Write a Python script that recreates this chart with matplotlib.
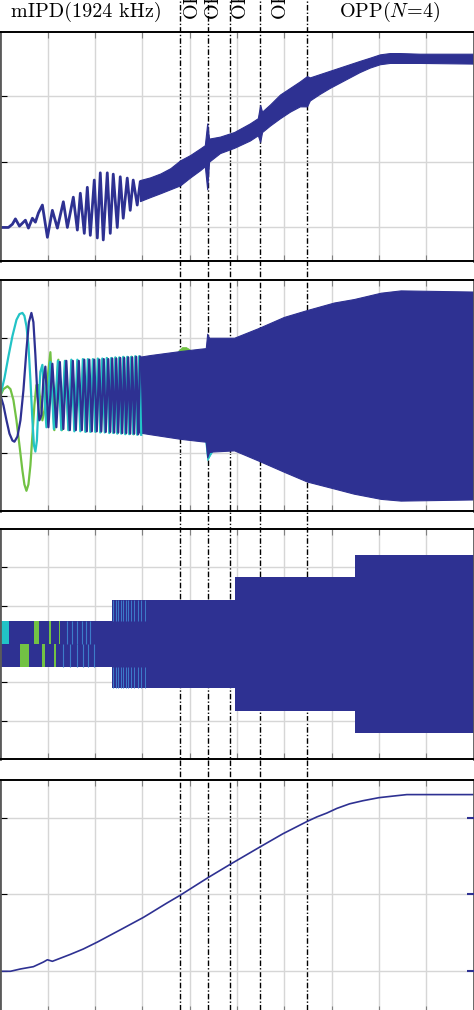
import matplotlib
matplotlib.use("Agg")
import matplotlib.pyplot as plt

plt.rcParams['font.family'] = ['cmr10', 'DejaVu Serif']
plt.rcParams['mathtext.fontset'] = 'cm'
plt.rcParams['axes.formatter.use_mathtext'] = True

BLUE = '#2e3192'
CYAN = '#22c3c6'
GREEN = '#72c244'
THIN = '#3d7cc9'

# ---- data (time axis 0..10) ----
opp_switch_t = [3.80, 4.38, 4.85, 5.48, 6.48]

# panel 1: mIPD start-up trace, then the dense band
mipd_t = [0, 0.169, 0.253, 0.316, 0.401, 0.527, 0.591, 0.675, 0.738, 0.802,
          0.886, 0.992, 1.097, 1.203, 1.329, 1.414, 1.540, 1.625, 1.688, 1.772,
          1.836, 1.899, 1.983, 2.047, 2.110, 2.173, 2.258, 2.321, 2.384, 2.469,
          2.532, 2.595, 2.680, 2.743, 2.806, 2.891, 2.954]
mipd_v = [0, 0, 0.05, 0.13, 0.02, 0.11, -0.01, 0.14, 0.08, 0.22,
          0.34, -0.15, 0.26, -0.01, 0.39, 0.00, 0.46, -0.04, 0.52, -0.09,
          0.61, -0.12, 0.72, -0.16, 0.83, -0.19, 0.83, -0.09, 0.81, 0.00,
          0.77, 0.14, 0.75, 0.26, 0.72, 0.34, 0.69]
mipd_band_t = [2.95, 3.16, 3.38, 3.59, 3.80, 4.01, 4.22, 4.32, 4.37, 4.41,
               4.64, 4.94, 5.27, 5.44, 5.49, 5.53, 5.70, 5.91, 6.12, 6.33,
               6.48, 6.54, 6.75, 6.96, 7.17, 7.38, 7.59, 7.81, 8.02, 8.23,
               8.44, 8.86, 10.0]
mipd_band_hi = [0.72, 0.76, 0.82, 0.90, 1.02, 1.10, 1.20, 1.25, 1.58, 1.35,
                1.38, 1.45, 1.58, 1.66, 1.86, 1.76, 1.87, 2.02, 2.12, 2.22,
                2.30, 2.28, 2.33, 2.38, 2.43, 2.48, 2.53, 2.58, 2.63, 2.65,
                2.65, 2.64, 2.64]
mipd_band_lo = [0.40, 0.46, 0.52, 0.58, 0.64, 0.76, 0.87, 0.93, 0.58, 1.00,
                1.13, 1.21, 1.32, 1.40, 1.30, 1.45, 1.55, 1.66, 1.76, 1.84,
                1.84, 1.93, 2.03, 2.12, 2.20, 2.28, 2.36, 2.43, 2.48, 2.50,
                2.50, 2.50, 2.49]

# panel 2: three phase currents
ia_t = [0, 0.063, 0.127, 0.190, 0.253, 0.295, 0.359, 0.422, 0.485, 0.549,
        0.601, 0.654, 0.696, 0.738, 0.781, 0.823, 0.865, 0.907, 0.949, 1.013,
        1.097, 1.181, 1.255, 1.329, 1.392, 1.466, 1.530, 1.593, 1.656, 1.720,
        1.772, 1.825, 1.878, 1.931, 1.983, 2.036, 2.089, 2.131, 2.184, 2.226,
        2.279, 2.321, 2.363, 2.405, 2.448, 2.490, 2.532, 2.574, 2.616, 2.659,
        2.701, 2.743, 2.785, 2.827, 2.870, 2.912, 2.954]
ia_v = [0, -0.17, -0.43, -0.66, -0.78, -0.80, -0.71, -0.43, 0.09, 0.79,
        1.27, 1.43, 1.27, 0.70, 0.00, -0.43, -0.34, 0.27, 0.50, -0.55,
        0.55, -0.55, 0.58, -0.58, 0.60, -0.60, 0.60, -0.60, 0.60, -0.60,
        0.62, -0.62, 0.62, -0.62, 0.62, -0.62, 0.62, -0.62, 0.63, -0.63,
        0.63, -0.63, 0.64, -0.64, 0.64, -0.64, 0.65, -0.65, 0.65, -0.65,
        0.66, -0.66, 0.66, -0.66, 0.67, -0.67, 0.67]
ib_t = [0, 0.084, 0.169, 0.253, 0.338, 0.401, 0.464, 0.506, 0.549, 0.591,
        0.633, 0.675, 0.707, 0.738, 0.770, 0.802, 0.844, 0.886, 0.971, 1.055,
        1.129, 1.213, 1.287, 1.361, 1.435, 1.498, 1.561, 1.625, 1.688, 1.741,
        1.794, 1.846, 1.899, 1.952, 2.005, 2.057, 2.110, 2.152, 2.205, 2.247,
        2.300, 2.342, 2.384, 2.427, 2.469, 2.511, 2.553, 2.595, 2.638, 2.680,
        2.722, 2.764, 2.806, 2.849, 2.891, 2.933, 2.975]
ib_v = [0.01, 0.30, 0.68, 1.03, 1.31, 1.41, 1.43, 1.38, 1.20, 0.88,
        0.27, -0.43, -0.86, -0.97, -0.78, -0.17, 0.41, 0.53, -0.55, 0.58,
        -0.58, 0.60, -0.60, 0.60, -0.60, 0.62, -0.62, 0.62, -0.62, 0.63,
        -0.63, 0.63, -0.63, 0.63, -0.63, 0.64, -0.64, 0.64, -0.64, 0.65,
        -0.65, 0.65, -0.65, 0.66, -0.66, 0.66, -0.66, 0.67, -0.67, 0.67,
        -0.67, 0.67, -0.67, 0.68, -0.68, 0.68, -0.68]
ic_t = [0, 0.063, 0.148, 0.211, 0.274, 0.338, 0.401, 0.464, 0.506, 0.549,
        0.591, 0.633, 0.675, 0.717, 0.759, 0.802, 0.844, 0.886, 0.928, 0.992,
        1.055, 1.139, 1.224, 1.298, 1.371, 1.445, 1.509, 1.572, 1.635, 1.699,
        1.751, 1.804, 1.857, 1.910, 1.962, 2.015, 2.068, 2.121, 2.163, 2.216,
        2.258, 2.310, 2.353, 2.395, 2.437, 2.479, 2.521, 2.564, 2.606, 2.648,
        2.690, 2.732, 2.775, 2.817, 2.859, 2.901, 2.943]
ic_v = [0, 0.11, 0.16, 0.11, -0.08, -0.43, -0.86, -1.30, -1.54, -1.65,
        -1.54, -1.21, -0.69, -0.17, 0.18, 0.18, -0.08, -0.43, -0.26, 0.27,
        0.75, -0.60, 0.62, -0.60, 0.60, -0.60, 0.60, -0.60, 0.60, -0.60,
        0.62, -0.62, 0.62, -0.62, 0.62, -0.62, 0.63, -0.63, 0.63, -0.63,
        0.64, -0.64, 0.64, -0.64, 0.65, -0.65, 0.65, -0.65, 0.66, -0.66,
        0.66, -0.66, 0.67, -0.67, 0.67, -0.67, 0.67]
cur_band_t = [2.93, 3.16, 3.80, 4.22, 4.34, 4.37, 4.41, 4.49, 4.94, 5.46,
              5.99, 6.48, 7.05, 7.47, 8.04, 8.46, 10.0]
cur_band_hi = [0.67, 0.70, 0.77, 0.81, 0.82, 1.07, 1.00, 1.00, 1.00, 1.17,
               1.36, 1.48, 1.61, 1.67, 1.78, 1.82, 1.80]
cur_band_lo = [-0.64, -0.67, -0.75, -0.79, -0.80, -1.07, -0.98, -0.97, -0.95, -1.13,
               -1.32, -1.49, -1.61, -1.70, -1.79, -1.82, -1.80]
green_edge_t = [3.76, 3.84, 3.92, 4.00]
green_edge_hi = [0.78, 0.84, 0.84, 0.80]
cyan_edge_t = [4.33, 4.37, 4.42, 4.47]
cyan_edge_lo = [-0.82, -1.12, -1.05, -0.98]

# panel 3: switching voltage levels
sw_edges = [0, 2.36, 4.96, 7.49, 10.0]
sw_levels = [0.59, 1.16, 1.76, 2.33]
up_cyan = [(0.0, 0.19)]
up_green = [(0.717, 0.808), (1.019, 1.070), (1.230, 1.266)]
lo_green = [(0.422, 0.597), (0.880, 0.940), (1.125, 1.175)]
up_thin = [1.407, 1.513, 1.618, 1.724, 1.815, 1.899]
lo_thin = [1.323, 1.477, 1.618, 1.745, 1.842, 1.969]
outer_thin = [2.384, 2.437, 2.490, 2.542, 2.595, 2.648, 2.701, 2.764,
              2.827, 2.901, 2.975, 3.059]

# panel 4: speed ramp
spd_t = [0, 0.211, 0.422, 0.696, 0.907, 0.992, 1.097, 1.266, 1.477, 1.751,
         2.047, 2.321, 2.595, 2.806, 3.017, 3.165, 3.376, 3.523, 3.80, 4.39,
         4.85, 5.49, 5.97, 6.48, 6.69, 6.90, 7.11, 7.38, 7.66, 8.00, 8.29,
         8.59, 10.0]
spd_v = [0, 0, 0.03, 0.06, 0.12, 0.15, 0.13, 0.17, 0.22, 0.29,
         0.38, 0.47, 0.56, 0.63, 0.70, 0.755, 0.835, 0.89, 0.99, 1.22,
         1.39, 1.62, 1.79, 1.95, 2.01, 2.06, 2.12, 2.18, 2.22, 2.26, 2.28,
         2.30, 2.30]

# ---- figure ----
fig = plt.figure(figsize=(4.74, 10.10), dpi=100)
L, W = 0.001, 0.998
H = 1010.0

# background axes for dash-dot markers and the region labels
ov = fig.add_axes([L, 0, W, 1])
ov.set_xlim(0, 10)
ov.set_ylim(0, 1)
ov.axis('off')
ov.set_zorder(0)
for t in opp_switch_t:
    ov.axvline(t, color='black', lw=1.0, ls=(0, (4, 1.5, 1, 1.5)))
ov.text(1.81, 1 - 17 / H, 'mIPD(1924 kHz)', ha='center', va='baseline', fontsize=14.5)
ov.text(8.23, 1 - 17 / H, r'OPP($N\!=\!4$)', ha='center', va='baseline', fontsize=14.5)
for x, n in zip([4.07, 4.51, 5.08, 5.93], [1, 2, 3, 3]):
    ov.text(x, 1 - 20 / H, r'OPP($N\!=\!%d$)' % n, rotation=90,
            ha='center', va='bottom', fontsize=14.5)

# panel rects: (top px, bottom px)
rows = [(32, 261), (280, 511), (529, 759), (780, 1012)]
ylims = [(-0.51, 2.97), (-2.0, 2.0), (-3.0, 3.0), (-0.53, 2.49)]
yticks = [[0, 1, 2], [-1, 0, 1], [-2, -1, 0, 1, 2], [0, 1, 2]]
axes = []
for (top, bot), yl, yt in zip(rows, ylims, yticks):
    ax = fig.add_axes([L, (H - bot) / H, W, (bot - top) / H])
    ax.set_zorder(1)
    ax.patch.set_alpha(0)
    ax.set_xlim(0, 10)
    ax.set_ylim(*yl)
    ax.set_xticks(range(1, 10))
    ax.set_yticks(yt)
    ax.set_xticklabels([])
    ax.set_yticklabels([])
    ax.grid(True, color='#d6d6d6', lw=1.0)
    ax.set_axisbelow(True)
    ax.tick_params(axis='x', direction='in', top=True, bottom=True, length=4,
                   color='#808080')
    ax.tick_params(axis='y', direction='in', left=True, right=False, length=5,
                   color='black')
    for s in ['top', 'bottom']:
        ax.spines[s].set_color('black')
        ax.spines[s].set_linewidth(1.4)
    for s in ['left', 'right']:
        ax.spines[s].set_color('#5a5a5a')
        ax.spines[s].set_linewidth(2.0)
    axes.append(ax)
ax1, ax2, ax3, ax4 = axes

# panel 1
ax1.plot(mipd_t, mipd_v, color=BLUE, lw=2.0)
ax1.fill_between(mipd_band_t, mipd_band_lo, mipd_band_hi, color=BLUE, lw=0.8)

# panel 2
ax2.fill_between(green_edge_t, 0, green_edge_hi, color=GREEN, lw=0.5)
ax2.fill_between(cyan_edge_t, cyan_edge_lo, 0, color=CYAN, lw=0.5)
ax2.plot(ic_t, ic_v, color=GREEN, lw=1.6)
ax2.plot(ib_t, ib_v, color=CYAN, lw=1.6)
ax2.plot(ia_t, ia_v, color=BLUE, lw=1.6)
ax2.fill_between(cur_band_t, cur_band_lo, cur_band_hi, color=BLUE, lw=0.8)

# panel 3
gap = 0.012
inner_h = sw_levels[0] - gap
w0 = sw_edges[1] - sw_edges[0]
ax3.bar(sw_edges[0], inner_h, width=w0, bottom=gap, align='edge', color=BLUE, lw=0)
ax3.bar(sw_edges[0], inner_h, width=w0, bottom=-sw_levels[0], align='edge', color=BLUE, lw=0)
for i in range(1, 4):
    ax3.bar(sw_edges[i], 2 * sw_levels[i], width=sw_edges[i + 1] - sw_edges[i],
            bottom=-sw_levels[i], align='edge', color=BLUE, lw=0)
for a, b in up_cyan:
    ax3.bar(a, inner_h, width=b - a, bottom=gap, align='edge', color=CYAN, lw=0)
for a, b in up_green:
    ax3.bar(a, inner_h, width=b - a, bottom=gap, align='edge', color=GREEN, lw=0)
for a, b in lo_green:
    ax3.bar(a, inner_h, width=b - a, bottom=-sw_levels[0], align='edge', color=GREEN, lw=0)
ax3.vlines(up_thin, gap, sw_levels[0], color=THIN, lw=0.8)
ax3.vlines(lo_thin, -sw_levels[0], -gap, color=THIN, lw=0.8)
ax3.vlines(outer_thin, sw_levels[0], sw_levels[1], color=THIN, lw=0.7)
ax3.vlines(outer_thin, -sw_levels[1], -sw_levels[0], color=THIN, lw=0.7)

# panel 4
ax4.plot(spd_t, spd_v, color=BLUE, lw=1.2)
ax4r = ax4.twinx()
ax4r.set_ylim(*ylims[3])
ax4r.set_yticks([0, 1, 2])
ax4r.set_yticklabels([])
ax4r.tick_params(axis='y', direction='in', length=5, width=1.5, color=BLUE)
ax4r.set_zorder(1)
for s in ax4r.spines.values():
    s.set_visible(False)

fig.savefig('out.png', dpi=100)
